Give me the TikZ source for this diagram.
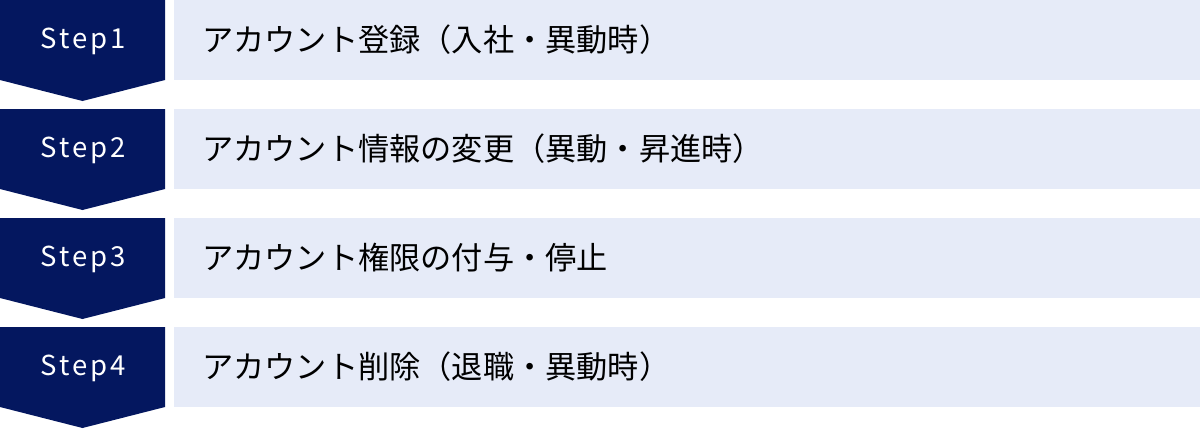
\documentclass[tikz,border=0pt]{standalone}
\usepackage{fontspec}
\setmainfont{Noto Sans CJK JP}
\newfontfamily\jp{Noto Sans CJK JP}
\definecolor{navy}{HTML}{04175F}
\definecolor{pale}{HTML}{E6EBF8}
\begin{document}
\begin{tikzpicture}[x=1pt,y=-1pt,
  chev/.style={fill=navy,draw=none},
  band/.style={fill=pale,draw=none},
  steplabel/.style={text=white,font=\jp\fontsize{27.5}{27.5}\selectfont\addfontfeature{LetterSpace=11},anchor=center,inner sep=0pt},
  itemlabel/.style={text=black,font=\jp\fontsize{31.2}{31.2}\selectfont,anchor=west,inner sep=0pt}]
\useasboundingbox (0,0) rectangle (1200,429);
\foreach \i/\t in {0/アカウント登録（入社・異動時）,1/アカウント情報の変更（異動・昇進時）,2/アカウント権限の付与・停止,3/アカウント削除（退職・異動時）}{
  \pgfmathsetmacro{\y}{109*\i}
  \fill[chev] (0,\y) -- (165,\y) -- (165,\y+80) -- (82.5,\y+101) -- (0,\y+80) -- cycle;
  \fill[band] (174,\y) rectangle (1200,\y+80);
  \pgfmathtruncatemacro{\n}{\i+1}
  \node[steplabel] (s\n) at (83,\y+41) {Step\n};
  \node[itemlabel] (t\n) at (202,\y+40) {\t};
}
\end{tikzpicture}
\end{document}
